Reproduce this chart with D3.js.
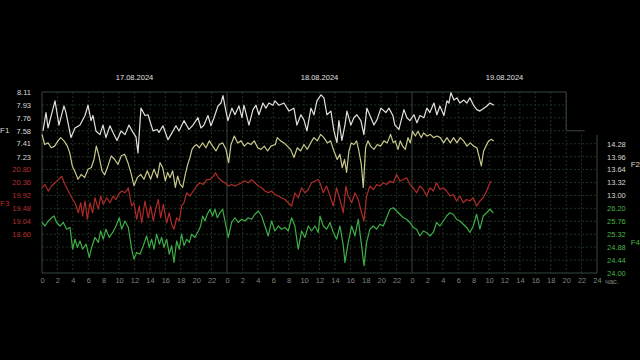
<!DOCTYPE html>
<html>
<head>
<meta charset="utf-8">
<script src="https://cdn.jsdelivr.net/npm/d3@7"></script>
<style>
    body { margin: 0; background: #000; }
    svg { display: block; }
    text { font-family: "Liberation Sans", Arial, sans-serif; }
</style>
</head>
<body>
<svg id="chart" width="640" height="360"></svg>
<script>

// ---------------------------------------------------------------
//  Data
// ---------------------------------------------------------------

const dayLabels = ["17.08.2024", "18.08.2024", "19.08.2024"];
const dayCenters = [12, 36, 60];
const hourTicks = d3.range(0, 73, 2);

const f1Ticks = [8.11, 7.93, 7.76, 7.58, 7.41, 7.23];
const f2Ticks = [14.28, 13.96, 13.64, 13.32, 13.00];
const f3Ticks = [20.80, 20.36, 19.92, 19.48, 19.04, 18.60];
const f4Ticks = [26.20, 25.76, 25.32, 24.88, 24.44, 24.00];

// [hour, value]
const f1 = [[0.13,7.58],[0.52,7.83],[0.78,7.62],[1.69,7.99],[2.20,7.66],[2.85,7.92],[3.11,7.83],[3.76,7.49],[4.28,7.62],[4.93,7.66],[5.58,7.79],[5.97,7.93],[6.36,7.72],[6.61,7.79],[7.00,7.58],[7.52,7.53],[7.91,7.66],[8.30,7.49],[8.82,7.65],[9.21,7.56],[9.73,7.45],[10.25,7.58],[10.77,7.53],[11.28,7.66],[11.80,7.56],[12.19,7.50],[12.45,7.28],[12.84,7.89],[13.36,7.79],[13.75,7.80],[14.40,7.58],[14.92,7.60],[15.18,7.56],[15.69,7.65],[16.34,7.46],[16.73,7.53],[17.38,7.65],[17.77,7.58],[18.42,7.72],[19.07,7.60],[19.58,7.66],[20.23,7.76],[20.62,7.62],[21.01,7.66],[21.53,7.79],[21.92,7.65],[22.31,7.76],[22.83,7.92],[23.22,7.96],[23.48,8.06],[23.86,7.85],[24.12,7.72],[24.64,7.89],[25.03,7.80],[25.55,7.92],[25.94,7.76],[26.20,7.93],[26.85,7.66],[27.37,7.87],[27.76,7.93],[28.14,7.80],[28.66,7.96],[29.05,7.89],[29.44,7.96],[29.96,7.93],[30.22,7.99],[30.74,7.93],[31.39,7.96],[32.04,7.85],[32.68,7.89],[33.07,7.66],[33.59,7.80],[33.98,7.73],[34.37,7.58],[34.89,7.89],[35.28,7.80],[35.67,7.99],[36.19,8.07],[36.58,8.03],[36.96,7.80],[37.48,7.85],[37.87,7.58],[38.26,7.42],[38.52,7.72],[38.91,7.45],[39.30,7.66],[39.56,7.85],[40.07,7.66],[40.46,7.76],[40.85,7.80],[41.37,7.72],[41.76,7.53],[42.15,7.89],[42.67,7.76],[43.06,7.66],[43.45,7.73],[43.97,7.89],[44.61,7.83],[45.00,7.89],[45.52,7.79],[45.78,7.66],[46.30,7.60],[46.95,7.87],[47.34,7.76],[47.73,7.72],[48.25,7.80],[48.64,7.69],[49.03,7.79],[49.54,7.76],[49.93,7.89],[50.32,7.83],[50.84,7.96],[51.23,7.80],[51.62,7.92],[52.14,7.79],[52.53,7.99],[52.79,7.96],[53.05,8.10],[53.44,8.00],[53.83,8.03],[54.21,7.96],[54.73,8.00],[55.12,7.96],[55.51,8.03],[56.03,7.92],[56.42,7.87],[56.81,7.85],[57.33,7.89],[57.72,7.92],[58.11,7.96],[58.63,7.93]];

const f2 = [[0.00,14.51],[0.35,14.26],[0.78,14.30],[1.21,14.18],[1.64,14.22],[2.07,14.35],[2.42,14.43],[2.85,14.35],[3.29,14.22],[3.59,14.06],[3.93,13.73],[4.32,13.57],[4.67,13.40],[5.10,13.52],[5.53,13.44],[5.97,13.65],[6.40,13.69],[6.74,13.89],[7.05,14.22],[7.39,13.98],[7.78,13.61],[8.13,13.51],[8.56,13.73],[8.99,13.98],[9.42,13.89],[9.86,13.77],[10.29,13.98],[10.72,14.02],[11.15,13.81],[11.59,13.52],[11.93,13.24],[12.36,13.44],[12.80,13.52],[13.23,13.40],[13.66,13.61],[14.09,13.40],[14.53,13.65],[14.96,13.44],[15.31,13.81],[15.65,13.69],[16.00,13.36],[16.30,13.57],[16.61,13.44],[16.95,13.61],[17.30,13.20],[17.60,13.48],[17.90,13.28],[18.25,13.20],[18.59,13.52],[18.90,13.77],[19.20,13.94],[19.46,14.14],[19.76,14.22],[20.06,14.26],[20.41,14.18],[20.84,14.30],[21.27,14.18],[21.71,14.35],[22.14,14.22],[22.57,14.10],[23.00,14.26],[23.44,14.30],[23.87,14.14],[24.21,13.81],[24.52,14.26],[24.95,14.47],[25.38,14.30],[25.81,14.35],[26.25,14.22],[26.68,14.30],[27.11,14.26],[27.54,14.35],[27.98,14.18],[28.41,14.14],[28.84,14.22],[29.27,14.10],[29.70,14.22],[30.27,14.26],[30.52,14.43],[30.95,14.35],[31.39,14.30],[31.82,14.22],[32.25,14.14],[32.68,13.94],[33.12,14.18],[33.55,14.10],[33.98,14.26],[34.41,14.14],[34.85,14.30],[35.28,14.43],[35.71,14.35],[36.14,14.51],[36.57,14.43],[37.01,14.30],[37.44,14.35],[37.87,14.10],[38.30,13.89],[38.65,14.02],[38.95,13.69],[39.25,13.89],[39.51,13.57],[39.82,14.10],[40.12,14.30],[40.47,14.26],[40.81,14.35],[41.11,14.10],[41.42,13.77],[41.68,13.20],[41.98,14.18],[42.28,14.35],[42.63,14.22],[43.06,14.14],[43.49,14.26],[43.92,14.22],[44.36,14.35],[44.79,14.30],[45.22,14.51],[45.57,14.30],[45.83,14.35],[46.18,14.14],[46.48,14.35],[46.78,14.22],[47.13,14.14],[47.48,14.43],[47.78,14.30],[48.08,14.59],[48.43,14.47],[48.77,14.59],[49.20,14.43],[49.51,14.55],[49.94,14.47],[50.37,14.51],[50.80,14.43],[51.24,14.47],[51.67,14.43],[52.10,14.30],[52.53,14.43],[52.97,14.30],[53.40,14.43],[53.83,14.30],[54.26,14.43],[54.69,14.35],[55.13,14.22],[55.56,14.30],[55.99,14.22],[56.42,14.18],[56.73,13.94],[56.99,13.73],[57.29,14.10],[57.59,14.22],[57.94,14.35],[58.28,14.39],[58.59,14.35]];

const f3 = [[0.00,20.18],[0.39,20.29],[0.82,20.07],[1.25,20.24],[1.69,20.35],[2.12,20.46],[2.55,20.57],[2.98,20.29],[3.42,20.07],[3.85,19.84],[4.28,19.67],[4.71,19.33],[5.02,19.67],[5.27,19.22],[5.58,19.73],[5.88,19.11],[6.23,19.67],[6.57,19.33],[6.87,19.84],[7.31,19.45],[7.61,19.90],[7.95,19.62],[8.39,19.84],[8.82,19.67],[9.25,19.90],[9.60,19.78],[9.90,19.95],[10.33,20.07],[10.76,20.01],[11.20,20.18],[11.63,19.56],[11.93,19.67],[12.28,19.11],[12.62,19.56],[12.93,18.99],[13.36,19.73],[13.79,19.16],[14.09,19.56],[14.44,19.05],[14.79,19.50],[15.09,19.78],[15.39,19.16],[15.74,19.62],[16.17,18.99],[16.51,19.33],[16.82,18.94],[17.12,18.77],[17.47,19.16],[17.81,19.05],[18.11,19.56],[18.42,19.67],[18.76,20.01],[19.19,19.90],[19.63,20.07],[20.06,20.24],[20.49,20.35],[20.92,20.29],[21.36,20.46],[21.79,20.46],[22.22,20.57],[22.52,20.69],[22.87,20.52],[23.30,20.41],[23.73,20.35],[24.17,20.24],[24.60,20.29],[25.03,20.24],[25.46,20.29],[25.90,20.35],[26.33,20.41],[26.76,20.35],[27.19,20.46],[27.62,20.35],[28.06,20.24],[28.49,20.18],[28.92,20.07],[29.35,20.01],[29.79,20.07],[30.22,19.95],[30.65,19.90],[31.08,19.84],[31.52,19.78],[31.95,19.67],[32.38,19.56],[32.81,20.01],[33.24,19.84],[33.68,20.18],[34.11,20.01],[34.54,20.12],[34.97,20.35],[35.41,20.41],[35.84,20.46],[36.06,20.35],[36.49,20.01],[36.92,20.24],[37.36,19.90],[37.79,19.56],[38.22,20.18],[38.65,19.78],[39.09,19.33],[39.43,20.24],[39.73,19.90],[40.17,19.67],[40.60,20.01],[41.03,19.78],[41.46,19.33],[41.77,19.05],[42.11,19.90],[42.54,20.24],[42.98,20.12],[43.41,20.29],[43.84,20.24],[44.27,20.35],[44.71,20.29],[45.14,20.41],[45.57,20.35],[46.00,20.63],[46.44,20.41],[46.87,20.46],[47.30,20.52],[47.73,20.29],[48.16,20.18],[48.60,20.01],[49.03,20.24],[49.46,20.12],[49.89,19.90],[50.33,20.18],[50.76,20.07],[51.19,20.35],[51.62,20.12],[52.06,20.18],[52.49,20.07],[52.92,19.90],[53.35,19.95],[53.78,19.73],[54.22,19.90],[54.65,19.67],[55.08,19.78],[55.51,19.73],[55.95,19.84],[56.38,19.56],[56.81,19.73],[57.24,19.84],[57.68,20.07],[58.11,20.35],[58.32,20.41]];

const f4 = [[0.00,25.72],[0.39,25.60],[0.82,25.77],[1.25,25.88],[1.56,25.94],[1.90,25.72],[2.35,25.60],[2.77,25.72],[3.20,25.49],[3.63,25.55],[3.98,24.81],[4.28,25.15],[4.58,24.87],[4.93,25.09],[5.27,24.81],[5.71,24.98],[6.14,24.53],[6.44,24.87],[6.87,25.21],[7.31,25.04],[7.61,25.43],[7.95,25.15],[8.30,25.49],[8.73,25.21],[9.17,25.38],[9.60,25.60],[10.03,25.88],[10.33,25.49],[10.76,25.77],[11.20,25.55],[11.63,24.81],[11.93,24.47],[12.28,24.70],[12.71,24.64],[13.14,24.93],[13.57,25.26],[13.92,24.87],[14.22,25.15],[14.53,24.81],[14.87,25.32],[15.22,24.98],[15.52,25.21],[15.82,24.87],[16.17,25.15],[16.51,24.64],[16.82,24.93],[17.12,24.36],[17.47,25.09],[17.81,24.81],[18.11,25.32],[18.42,24.93],[18.76,25.15],[19.11,25.04],[19.41,25.32],[19.84,25.21],[20.28,25.43],[20.58,25.60],[20.84,25.94],[21.14,25.77],[21.44,26.00],[21.79,26.17],[22.13,25.94],[22.44,26.17],[22.74,25.88],[23.09,26.05],[23.43,26.17],[23.73,25.77],[24.17,25.21],[24.60,25.72],[25.03,25.88],[25.46,25.72],[25.90,25.83],[26.33,25.77],[26.76,25.88],[27.19,25.83],[27.62,26.00],[28.06,26.11],[28.49,25.94],[28.92,25.60],[29.35,25.26],[29.79,25.77],[30.22,25.43],[30.65,25.60],[31.08,25.49],[31.52,25.55],[31.95,25.43],[32.38,25.88],[32.81,25.60],[33.24,24.81],[33.68,25.43],[34.11,25.21],[34.54,25.60],[34.97,25.43],[35.41,25.60],[35.84,25.38],[36.06,25.94],[36.49,25.60],[36.92,25.49],[37.36,25.72],[37.79,25.38],[38.22,25.15],[38.65,25.60],[39.09,24.93],[39.30,24.36],[39.73,25.04],[40.17,25.60],[40.60,25.26],[41.03,25.83],[41.46,24.93],[41.77,24.25],[42.11,25.04],[42.54,25.49],[42.98,25.60],[43.41,25.49],[43.84,25.66],[44.27,25.60],[44.71,25.88],[45.14,26.17],[45.57,26.22],[46.00,26.11],[46.44,26.00],[46.87,25.88],[47.30,25.83],[47.73,25.72],[48.16,25.55],[48.60,25.49],[49.03,25.26],[49.46,25.43],[49.89,25.38],[50.33,25.26],[50.76,25.38],[51.19,25.72],[51.62,25.60],[52.06,25.77],[52.49,25.94],[52.92,26.05],[53.35,26.00],[53.78,25.83],[54.22,25.77],[54.65,25.66],[55.08,25.55],[55.51,25.38],[55.95,25.60],[56.38,26.00],[56.81,25.49],[57.24,25.94],[57.68,26.05],[58.11,26.17],[58.54,26.05]];

// ---------------------------------------------------------------
//  Layout
// ---------------------------------------------------------------

const svg = d3.select("#chart");
svg.append("rect").attr("width", 640).attr("height", 360).attr("fill", "#000");

const plotTop = 92, plotBottom = 273, rows = 14;
const x = d3.scaleLinear().domain([0, 72]).range([42, 597]);
const row = d3.scaleLinear().domain([0, rows]).range([plotTop, plotBottom]);

// each series sits on its own band of grid rows
const yF1 = d3.scaleLinear().domain([8.11, 7.23]).range([row(0), row(5)]);
const yF2 = d3.scaleLinear().domain([14.28, 13.00]).range([row(4), row(8)]);
const yF3 = d3.scaleLinear().domain([20.80, 18.60]).range([row(6), row(11)]);
const yF4 = d3.scaleLinear().domain([26.20, 24.00]).range([row(9), row(14)]);

const gridColor = "#1d3320";
const frameColor = "#37473a";

// ---------------------------------------------------------------
//  Grid
// ---------------------------------------------------------------

const grid = svg.append("g");

// horizontal dashed rows; upper rows stop short of the right edge
grid.selectAll("line.h")
    .data(d3.range(1, rows))
    .join("line")
        .attr("x1", x(0))
        .attr("x2", d => d <= 3 ? x(68) : x(72))
        .attr("y1", d => row(d))
        .attr("y2", d => row(d))
        .attr("stroke", gridColor)
        .attr("stroke-dasharray", "2,2");

// vertical dashed hour lines, solid at the day boundaries
grid.selectAll("line.v")
    .data(hourTicks.filter(h => h > 0 && h < 72))
    .join("line")
        .attr("x1", d => x(d))
        .attr("x2", d => x(d))
        .attr("y1", d => d > 68 ? row(3) + 4 : plotTop)
        .attr("y2", plotBottom)
        .attr("stroke", d => d % 24 === 0 ? frameColor : gridColor)
        .attr("stroke-dasharray", d => d % 24 === 0 ? null : "2,2");

// frame
grid.append("path")
    .attr("d", `M${x(68)},${row(3)}V${plotTop}H${x(0)}V${plotBottom}H${x(72)}V${row(3) + 4}`)
    .attr("fill", "none")
    .attr("stroke", frameColor);
grid.append("line")
    .attr("x1", x(68)).attr("x2", x(70.4))
    .attr("y1", row(3)).attr("y2", row(3))
    .attr("stroke", frameColor);

// ---------------------------------------------------------------
//  Axes
// ---------------------------------------------------------------

function styleAxis(g, color) {
    g.select(".domain").remove();
    g.selectAll(".tick line").remove();
    g.selectAll("text")
        .attr("fill", color)
        .attr("font-size", 7.5);
}

svg.append("g")
    .attr("transform", `translate(0,${plotBottom})`)
    .call(d3.axisBottom(x).tickValues(hourTicks).tickSize(0).tickPadding(5)
        .tickFormat(d => d === 72 ? "24" : d % 24))
    .call(g => styleAxis(g, "#7f857f"));

svg.append("text")
    .attr("x", x(72) + 8).attr("y", plotBottom + 11)
    .attr("fill", "#7f857f").attr("font-size", 7.5)
    .text("час.");

svg.append("g")
    .attr("transform", `translate(${x(0) - 8},0)`)
    .call(d3.axisLeft(yF1).tickValues(f1Ticks).tickSize(0).tickFormat(d3.format(".2f")))
    .call(g => styleAxis(g, "#d8d8d8"));

svg.append("g")
    .attr("transform", `translate(${x(0) - 8},0)`)
    .call(d3.axisLeft(yF3).tickValues(f3Ticks).tickSize(0).tickFormat(d3.format(".2f")))
    .call(g => styleAxis(g, "#b83030"));

svg.append("g")
    .attr("transform", `translate(${x(72) + 7},0)`)
    .call(d3.axisRight(yF2).tickValues(f2Ticks).tickSize(0).tickFormat(d3.format(".2f")))
    .call(g => styleAxis(g, "#d8d8d0"));

svg.append("g")
    .attr("transform", `translate(${x(72) + 7},0)`)
    .call(d3.axisRight(yF4).tickValues(f4Ticks).tickSize(0).tickFormat(d3.format(".2f")))
    .call(g => styleAxis(g, "#46b446"));

// series names
const names = [
    { name: "F1", x: 0, y: yF1(7.58) + 2, color: "#d8d8d8", anchor: "start" },
    { name: "F3", x: 0, y: yF3(19.48) - 2, color: "#b83030", anchor: "start" },
    { name: "F2", x: 640, y: yF2(13.64) - 3, color: "#d8d8d0", anchor: "end" },
    { name: "F4", x: 640, y: yF4(24.88) - 2, color: "#46b446", anchor: "end" }
];
svg.selectAll("text.name")
    .data(names)
    .join("text")
        .attr("x", d => d.x)
        .attr("y", d => d.y)
        .attr("text-anchor", d => d.anchor)
        .attr("fill", d => d.color)
        .attr("font-size", 8)
        .text(d => d.name);

// day labels
svg.selectAll("text.day")
    .data(dayLabels)
    .join("text")
        .attr("x", (d, i) => x(dayCenters[i]))
        .attr("y", 80)
        .attr("text-anchor", "middle")
        .attr("fill", "#e0e0e0")
        .attr("font-size", 7.5)
        .text(d => d);

// ---------------------------------------------------------------
//  Series
// ---------------------------------------------------------------

const series = [
    { data: f1, y: yF1, color: "#e2e2dc" },
    { data: f2, y: yF2, color: "#c9c98e" },
    { data: f3, y: yF3, color: "#b02c2a" },
    { data: f4, y: yF4, color: "#3fae48" }
];

series.forEach(s => {
    svg.append("path")
        .datum(s.data)
        .attr("fill", "none")
        .attr("stroke", s.color)
        .attr("stroke-width", 1.2)
        .attr("stroke-linejoin", "round")
        .attr("d", d3.line().x(d => x(d[0])).y(d => s.y(d[1])));
});

</script>
</body>
</html>
